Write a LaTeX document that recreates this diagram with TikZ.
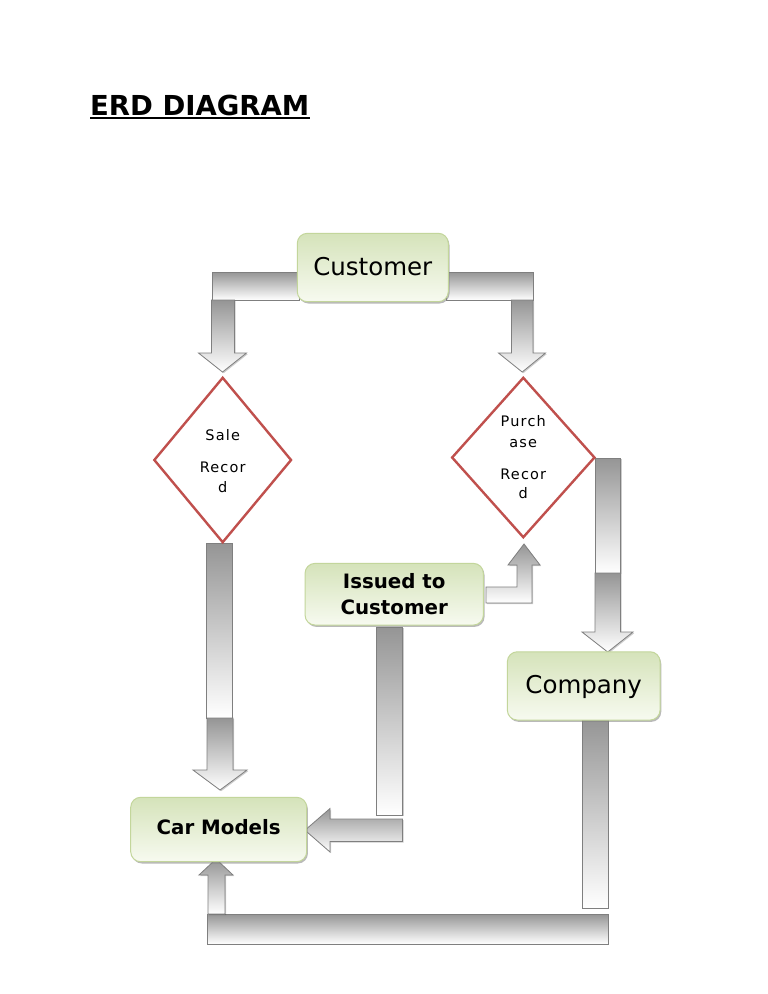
\documentclass[tikz,border=0pt]{standalone}
\usepackage{fontspec}
\setmainfont{DejaVu Sans}
\usetikzlibrary{shapes.geometric,shadows}
\definecolor{grnTop}{HTML}{D5E3BA}
\definecolor{grnBot}{HTML}{F7FAF0}
\definecolor{grnLine}{HTML}{C3D69B}
\definecolor{redLine}{HTML}{C0504D}
\definecolor{pipeTop}{HTML}{959595}
\definecolor{pipeLine}{HTML}{7F7F7F}
\tikzset{
  ebox/.style={rectangle, rounded corners=10pt, draw=grnLine, line width=1pt,
    top color=grnTop, bottom color=grnBot, inner sep=0pt, text=black,
    drop shadow={shadow xshift=1.2pt, shadow yshift=-1.8pt, fill=black!50, opacity=0.55}},
  pipe/.style={draw=pipeLine, line width=0.8pt, top color=pipeTop, bottom color=white,
    drop shadow={shadow xshift=1.2pt, shadow yshift=-1.2pt, fill=black, opacity=0.2}},
  rel/.style={diamond, draw=redLine, line width=2.4pt, inner sep=0pt, fill=white},
  dtext/.style={font=\fontsize{14.5}{17}\selectfont\addfontfeature{LetterSpace=8}, inner sep=0pt, anchor=base},
  bigtext/.style={font=\fontsize{24.5}{28}\selectfont, text height=18pt},
  boldtext/.style={font=\fontsize{19.8}{26.3}\selectfont\bfseries},
}
\begin{document}
\begin{tikzpicture}[x=1pt,y=-1pt]
\useasboundingbox[fill=white] (0,0) rectangle (768,994);

% title
\node[font=\fontsize{27.5}{30}\selectfont\bfseries, inner sep=0pt, anchor=base west] (title) at (90,115) {ERD DIAGRAM};
\draw[line width=2pt] ([yshift=-2.6pt]title.base west) -- ([yshift=-2.6pt]title.base east);

% block connectors
\path[pipe] (212,272) rectangle (299,300);
\path[pipe] (446,272) rectangle (533,300);
\path[pipe] (211.5,300) -- (234.5,300) -- (234.5,353) -- (246.5,353) -- (222.5,372) -- (198.5,353) -- (211.5,353) -- cycle;
\path[pipe] (511.5,300) -- (533,300) -- (533,353) -- (545.5,353) -- (522.2,372) -- (498.5,353) -- (511.5,353) -- cycle;

\path[pipe] (206,543) rectangle (232,718);
\path[pipe] (207,718) -- (233,718) -- (233,770) -- (247,770) -- (220,790) -- (193,770) -- (207,770) -- cycle;

\path[pipe] (595,458) rectangle (620.5,573);
\path[pipe] (595,573) -- (620.5,573) -- (620.5,632) -- (633,632) -- (607.7,652) -- (582,632) -- (595,632) -- cycle;

\path[pipe] (582,718) rectangle (608,908);
\path[pipe] (207,914) rectangle (608,944);
\path[pipe] (208,914) -- (208,875) -- (199,875) -- (216,859) -- (233,875) -- (225,875) -- (225,914) -- cycle;

\path[pipe] (376,627) rectangle (402.5,815);
\path[pipe] (402.5,819) -- (330,819) -- (330,808.5) -- (305,830.2) -- (330,852) -- (330,841.5) -- (402.5,841.5) -- cycle;

\path[pipe] (486,587) -- (517,587) -- (517,565) -- (508,565) -- (524,544) -- (540,565) -- (532,565) -- (532,603) -- (486,603) -- cycle;

% relationships
\node[rel, minimum width=137.7, minimum height=165.4] (sale) at (222.7,460) {};
\node[rel, minimum width=143.3, minimum height=160.4] (purch) at (523.3,457.5) {};
\node[dtext] (s1) at (222.7,440) {Sale};
\node[dtext] (s2) at (222.7,472) {Recor};
\node[dtext] (s3) at (222.7,492) {d};
\node[dtext] (p1) at (523.3,426) {Purch};
\node[dtext] (p2) at (523.3,447) {ase};
\node[dtext] (p3) at (523.3,479) {Recor};
\node[dtext] (p4) at (523.3,498.5) {d};

% entities
\node[ebox, bigtext, text depth=2.6pt, minimum width=151, minimum height=68.4] (cust) at (372.8,267.5) {Customer};
\node[ebox, bigtext, text depth=2.4pt, minimum width=152.7, minimum height=68.3] (comp) at (583.7,685.9) {Company};
\node[ebox, boldtext, text height=14.3pt, text depth=4pt, minimum width=176, minimum height=64.4] (car) at (218.7,829.5) {Car Models};
\node[ebox, boldtext, align=center, minimum width=178.3, minimum height=61.7] (iss) at (394.2,594.2) {Issued to\\Customer};
\end{tikzpicture}
\end{document}
